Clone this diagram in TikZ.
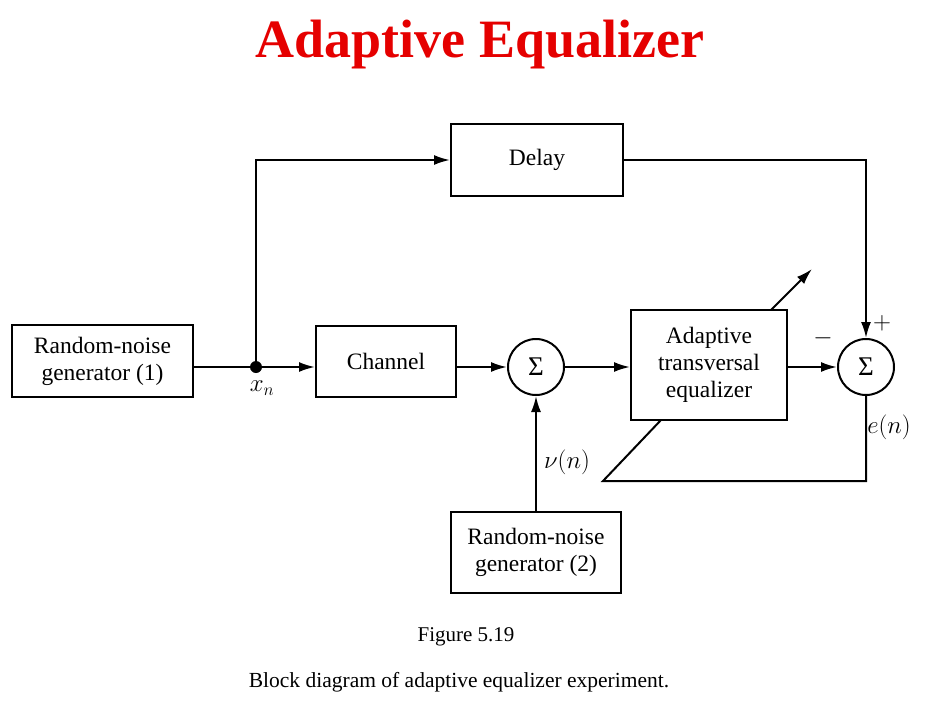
\documentclass[tikz,border=0pt]{standalone}
\usepackage{fontspec}
\setmainfont{Liberation Serif}
\usetikzlibrary{arrows.meta,calc}
\begin{document}
\begin{tikzpicture}[x=1pt,y=-1pt,line width=2pt,
  box/.style={draw,fill=white,align=center,font=\fontsize{23.5}{27}\selectfont},
  sum/.style={draw,circle,minimum size=56pt,inner sep=0pt,font=\fontsize{27}{30}\selectfont},
  arr/.style={-{Latex[length=16pt,width=10pt]}},
  lab/.style={font=\fontsize{24}{27}\selectfont}]
\useasboundingbox (0,0) rectangle (935,705);
\node[font=\fontsize{54}{58}\selectfont\bfseries,text=red!90!black] (title) at (480,45) {Adaptive Equalizer};
\node[box,minimum width=172pt,minimum height=72pt] (delay) at (537,160) {Delay};
\node[box,minimum width=181pt,minimum height=72pt] (g1) at (102.5,361) {Random-noise\\generator (1)};
\node[box,minimum width=140pt,minimum height=71pt] (ch) at (386,361.5) {Channel};
\node[sum] (s1) at (536,367) {Σ};
\node[box,minimum width=156pt,minimum height=110pt] (eq) at (709,365) {Adaptive\\transversal\\equalizer};
\node[sum] (s2) at (866,367) {Σ};
\node[box,minimum width=170pt,minimum height=81pt] (g2) at (536,552.5) {Random-noise\\generator (2)};
\coordinate (dot) at (256,367);
\fill (dot) circle (6pt);
\draw (g1.east|-dot) -- (dot);
\draw[arr] (dot) -- (ch.west|-dot);
\node[lab] (xn) at (262,388) {$x_n$};
\draw[arr] (dot) |- (delay.west);
\draw[arr] (delay.east) -| (s2.north);
\node[lab] (plus) at (882,323) {$+$};
\node[lab] (minus) at (823,338) {$-$};
\draw[arr] (ch.east|-s1) -- (s1.west);
\draw[arr] (s1.east) -- (eq.west|-s1);
\draw[arr] (eq.east|-s2) -- (s2.west);
\draw[arr] (g2.north) -- (s1.south);
\node[lab] (nu) at (567,462) {$\nu(n)$};
\node[lab] (en) at (889,427) {$e(n)$};
\coordinate (c1) at (866,481);
\coordinate (c2) at (603,481);
\coordinate (c3) at (661,420);
\coordinate (c4) at (771,310);
\coordinate (c5) at (812,269);
\draw (s2.south) -- (c1) -- (c2) -- (c3);
\draw[arr] (c4) -- (c5);
\node[font=\fontsize{21}{24}\selectfont] (fig) at (466,637) {Figure 5.19};
\node[font=\fontsize{21.5}{24}\selectfont] (cap) at (459,682) {Block diagram of adaptive equalizer experiment.};
\end{tikzpicture}
\end{document}
